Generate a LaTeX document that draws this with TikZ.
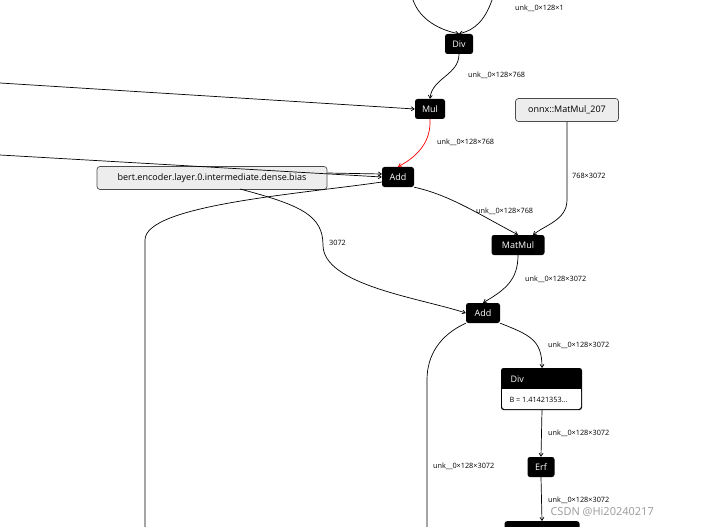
\documentclass[tikz,border=0pt]{standalone}
\usepackage{fontspec}
\setmainfont{Open Sans}
\usetikzlibrary{arrows.meta}
\begin{document}
\begin{tikzpicture}[x=1pt,y=-1pt,
  op/.style={fill=black,text=white,rounded corners=2.5pt,font=\fontsize{9}{10}\selectfont,inner sep=0pt,minimum height=20pt},
  init/.style={draw=black!70,fill=black!7,rounded corners=3pt,font=\fontsize{9}{10}\selectfont,inner sep=0pt,minimum height=23pt,line width=0.7pt},
  e/.style={draw,line width=0.7pt,-{Straight Barb[length=3pt,width=4pt]}},
  lab/.style={font=\fontsize{7.3}{8}\selectfont,inner sep=0pt}]
\useasboundingbox (0,0) rectangle (716,527);
\node[op,minimum width=28pt] (div1) at (459,44) {Div};
\node[op,minimum width=30pt] (mul) at (430,109) {Mul};
\node[init,minimum width=103pt] (w) at (567,110) {onnx::MatMul\_207};
\node[op,minimum width=32pt] (add1) at (398,177) {Add};
\node[init,minimum width=230pt] (bias) at (212,178) {bert.encoder.layer.0.intermediate.dense.bias};
\node[op,minimum width=53pt] (mm) at (518,245) {MatMul};
\node[op,minimum width=34pt] (add2) at (483,313) {Add};
\node[fill=black,rounded corners=2.5pt,minimum width=81pt,minimum height=42pt,inner sep=0pt] (div2) at (541.5,389) {};
\fill[white,rounded corners=2.5pt] (502,389) rectangle (581,409);
\fill[white] (502,389) rectangle (581,395);
\node[font=\fontsize{9}{10}\selectfont,text=white,anchor=west] at (507,379) {Div};
\node[font=\fontsize{7.3}{8}\selectfont,anchor=west] at (506,400) {B = 1.41421353...};
\node[op,minimum width=27pt] (erf) at (541,467) {Erf};
\node[op,minimum width=75pt,anchor=north] (last) at (542,521) {};
\coordinate (t1) at (413,0); \coordinate (t2) at (492,0);
\coordinate (l1) at (0,83); \coordinate (l2) at (0,155);
\coordinate (b1) at (145,527); \coordinate (b2) at (427,527);
\draw[e] (t1) .. controls (420,20) and (440,30) .. (div1.north);
\draw[e] (t2) .. controls (485,20) and (475,30) .. (div1.north);
\node[lab,anchor=west] at (515,8) {unk\_\_0×128×1};
\draw[e] (div1.south) .. controls (459,75) and (432,78) .. (mul.north);
\node[lab,anchor=west] at (468,75) {unk\_\_0×128×768};
\draw[e] (l1) -- (mul.west);
\draw[e,red] (mul.south) .. controls (431,140) and (420,155) .. (add1.north);
\node[lab,anchor=west] at (437,142) {unk\_\_0×128×768};
\draw[e] (l2) -- (add1.west);
\draw[e] (bias.east|-0,173) -- (382,174);
\draw[line width=0.7pt] (382,182) .. controls (300,194) and (145,205) .. (145,240) -- (b1);
\draw[e] (240,189) .. controls (300,205) and (323,215) .. (323,245) .. controls (323,285) and (420,298) .. (add2.west);
\node[lab,anchor=west] at (329,243) {3072};
\draw[e] (add1.south east) .. controls (450,195) and (480,215) .. (mm.north);
\node[lab,anchor=west] at (476,211) {unk\_\_0×128×768};
\draw[e] (w.south) -- (567,200) .. controls (567,220) and (545,225) .. (533,235);
\node[lab,anchor=west] at (572,176) {768×3072};
\draw[e] (mm.south) .. controls (518,280) and (505,290) .. (add2.north);
\node[lab,anchor=west] at (525,279) {unk\_\_0×128×3072};
\draw[e] (add2.south east) .. controls (530,335) and (542,340) .. (542,368);
\node[lab,anchor=west] at (548,345) {unk\_\_0×128×3072};
\draw[line width=0.7pt] (add2.south west) .. controls (440,335) and (427,355) .. (427,380) -- (b2);
\node[lab,anchor=west] at (433,466) {unk\_\_0×128×3072};
\draw[e] (542,410) -- (erf.north);
\node[lab,anchor=west] at (548,433) {unk\_\_0×128×3072};
\draw[e] (erf.south) -- (542,521);
\node[lab,anchor=west] at (548,500) {unk\_\_0×128×3072};
\node[font=\fontsize{11}{13}\selectfont,text=black!40,anchor=west] at (547,512) {CSDN @Hi20240217};
\end{tikzpicture}
\end{document}
